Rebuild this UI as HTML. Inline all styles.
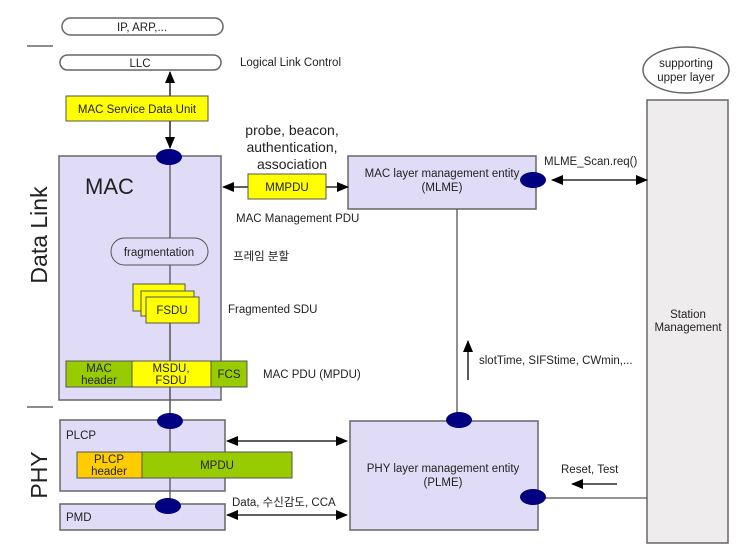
<!DOCTYPE html>
<html><head><meta charset="utf-8"><style>body{margin:0;background:#fff}svg{display:block}text{font-family:"Liberation Sans","Noto Sans CJK KR",sans-serif;fill:#222}</style></head><body>
<svg width="740" height="551" viewBox="0 0 740 551" xmlns="http://www.w3.org/2000/svg">
<defs><marker id="b" markerWidth="12" markerHeight="10" refX="11" refY="5" orient="auto" markerUnits="userSpaceOnUse"><path d="M0,0L12,5L0,10z" fill="#000"/></marker></defs>
<g stroke="#666" stroke-width="1.5">
<rect x="62" y="18" width="161" height="17" rx="8.5" fill="#fff"/>
<rect x="60" y="55" width="161" height="15" rx="7.5" fill="#fff"/>
<line x1="27" y1="46" x2="53" y2="46"/><line x1="27" y1="407" x2="53" y2="407"/>
<rect x="59" y="156" width="162" height="244" fill="#e0dcf8"/>
<rect x="60" y="420" width="165" height="71" fill="#e0dcf8"/>
<rect x="60" y="504" width="165" height="26" fill="#e0dcf8"/>
<rect x="348" y="156" width="188" height="53" fill="#e0dcf8"/>
<rect x="350" y="421" width="188" height="109" fill="#e0dcf8"/>
<rect x="647" y="100" width="81" height="443" fill="#efecee"/>
<ellipse cx="686" cy="70" rx="43" ry="23" fill="#fff"/>
</g>
<g stroke="#555" stroke-width="1.3" fill="none">
<line x1="170" y1="157" x2="170" y2="506"/>
<line x1="457" y1="209" x2="457" y2="418"/>
<line x1="533" y1="498" x2="647" y2="498"/>
</g>
<g stroke="#000" stroke-width="1.3">
<line x1="170" y1="96" x2="170" y2="72" marker-end="url(#b)"/>
<line x1="170" y1="121" x2="170" y2="148" marker-end="url(#b)"/>
<line x1="248" y1="187" x2="223" y2="187" marker-end="url(#b)"/>
<line x1="326" y1="187" x2="348" y2="187" marker-end="url(#b)"/>
<line x1="600" y1="180" x2="552" y2="180" marker-end="url(#b)"/>
<line x1="600" y1="180" x2="647" y2="180" marker-end="url(#b)"/>
<line x1="290" y1="441" x2="227" y2="441" marker-end="url(#b)"/>
<line x1="290" y1="441" x2="347" y2="441" marker-end="url(#b)"/>
<line x1="290" y1="515" x2="227" y2="515" marker-end="url(#b)"/>
<line x1="290" y1="515" x2="347" y2="515" marker-end="url(#b)"/>
<line x1="468" y1="380" x2="468" y2="341" marker-end="url(#b)"/>
<line x1="617" y1="484" x2="572" y2="484" marker-end="url(#b)"/>
</g>
<g stroke="#555" stroke-width="1">
<rect x="66" y="96" width="142" height="25" fill="#ffff00"/>
<rect x="248" y="174" width="78" height="25" fill="#ffff00"/>
<rect x="111" y="238" width="97" height="27" rx="13.5" fill="#e0dcf8"/>
<rect x="133" y="284" width="52" height="27" fill="#ffff00"/>
<rect x="141" y="291" width="53" height="25" fill="#ffff00"/>
<rect x="146" y="297" width="53" height="26" fill="#ffff00"/>
<rect x="66" y="361" width="66" height="26" fill="#99cc00"/>
<rect x="132" y="361" width="79" height="26" fill="#ffff00"/>
<rect x="211" y="361" width="36" height="26" fill="#99cc00"/>
<rect x="77" y="452" width="65" height="26" fill="#ffcc00"/>
<rect x="142" y="452" width="150" height="26" fill="#99cc00"/>
</g>
<line x1="170" y1="323" x2="170" y2="361" stroke="#555" stroke-width="1.3"/>
<line x1="170" y1="387" x2="170" y2="420" stroke="#555" stroke-width="1.3"/>
<g fill="#000080">
<ellipse cx="169" cy="157" rx="13" ry="8"/>
<ellipse cx="170" cy="421" rx="13" ry="8"/>
<ellipse cx="168" cy="506" rx="13" ry="8"/>
<ellipse cx="533" cy="180" rx="13" ry="8"/>
<ellipse cx="459" cy="420" rx="13" ry="8"/>
<ellipse cx="533" cy="497" rx="13" ry="8"/>
</g>
<g font-size="11.5" text-anchor="middle">
<text x="142" y="31">IP, ARP,...</text>
<text x="140" y="67">LLC</text>
<text x="137" y="113">MAC Service Data Unit</text>
<text x="287" y="191">MMPDU</text>
<text x="159" y="256">fragmentation</text>
<text x="172" y="314">FSDU</text>
<text x="99" y="372">MAC</text><text x="99" y="384">header</text>
<text x="171" y="372">MSDU,</text><text x="171" y="384">FSDU</text>
<text x="229" y="378">FCS</text>
<text x="109" y="463">PLCP</text><text x="109" y="475">header</text>
<text x="217" y="469">MPDU</text>
<text x="442" y="177">MAC layer management entity</text><text x="442" y="191">(MLME)</text>
<text x="443" y="472">PHY layer management entity</text><text x="443" y="486">(PLME)</text>
<text x="686" y="67">supporting</text><text x="686" y="81">upper layer</text>
<text x="688" y="318">Station</text><text x="688" y="331">Management</text>
</g>
<g font-size="11.5">
<text x="240" y="66">Logical Link Control</text>
<text x="236" y="222">MAC Management PDU</text>
<text x="233" y="260">프레임 분할</text>
<text x="228" y="313">Fragmented SDU</text>
<text x="263" y="378">MAC PDU (MPDU)</text>
<text x="66" y="439">PLCP</text>
<text x="66" y="521">PMD</text>
<text x="232" y="506">Data, 수신감도, CCA</text>
<text x="544" y="165">MLME_Scan.req()</text>
<text x="479" y="364">slotTime, SIFStime, CWmin,...</text>
<text x="561" y="473">Reset, Test</text>
</g>
<g font-size="14" text-anchor="middle">
<text x="292" y="135">probe, beacon,</text>
<text x="292" y="152">authentication,</text>
<text x="292" y="169">association</text>
</g>
<text x="85" y="194" font-size="22">MAC</text>
<text transform="translate(47,235) rotate(-90)" font-size="23" text-anchor="middle">Data Link</text>
<text transform="translate(47,475) rotate(-90)" font-size="23" text-anchor="middle">PHY</text>
</svg>
</body></html>
